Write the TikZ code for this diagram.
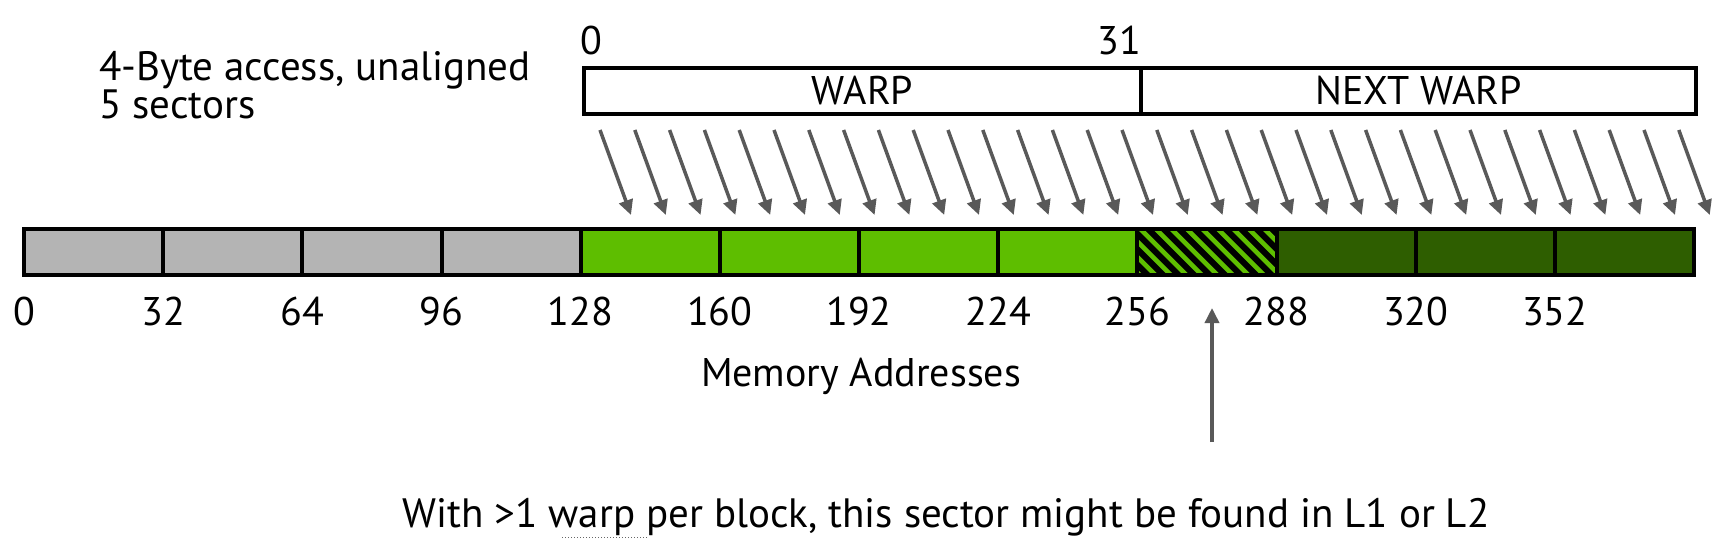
\documentclass[tikz,border=0pt]{standalone}
\usepackage{fontspec}
\setmainfont{PT Sans}
\usetikzlibrary{arrows.meta}
\definecolor{secgray}{HTML}{B4B4B4}
\definecolor{brightgreen}{HTML}{5EBE00}
\definecolor{darkgreen}{HTML}{2E5E00}
\definecolor{arrowgray}{HTML}{595959}
\tikzset{
  lbl/.style={font=\fontsize{40}{44}\selectfont, inner sep=0pt},
  sector/.style={draw=black, line width=4pt},
  warpbox/.style={draw=black, line width=4pt, fill=white},
  thread/.style={draw=arrowgray, line width=3.5pt, -{Triangle[length=15pt,width=14pt]}},
}
\begin{document}
\begin{tikzpicture}[x=1pt,y=-1pt]
\useasboundingbox (0,0) rectangle (1726,548);
% top-left text
\node[lbl, anchor=base west, font=\fontsize{41}{44}\selectfont] (t1) at (99,81) {4-Byte access, unaligned};
\node[lbl, anchor=base west, font=\fontsize{41}{44}\selectfont] (t2) at (99,119) {5 sectors};
% warp boxes
\node[warpbox, minimum width=557pt, minimum height=46pt, anchor=north west, inner sep=0pt, lbl] (warp) at (582,66) {WARP};
\node[warpbox, minimum width=555pt, minimum height=46pt, anchor=north west, inner sep=0pt, lbl] (nwarp) at (1139,66) {NEXT WARP};
\node[lbl, anchor=base west] (w0) at (580,55) {0};
\node[lbl, anchor=base east] (w31) at (1141,55) {31};
% memory sectors
\foreach \i in {0,...,3} {
  \draw[sector, fill=secgray] ({24+\i*139.17},229) rectangle ({24+(\i+1)*139.17},275);
}
\foreach \i in {4,...,7} {
  \draw[sector, fill=brightgreen] ({24+\i*139.17},229) rectangle ({24+(\i+1)*139.17},275);
}
\begin{scope}
  \clip ({24+8*139.17},229) rectangle ({24+9*139.17},275);
  \fill[black] ({24+8*139.17},229) rectangle ({24+9*139.17},275);
  \foreach \s in {-3,...,10} {
    \draw[brightgreen, line width=4.5pt] ({24+8*139.17+\s*15.5},226) -- ({24+8*139.17+\s*15.5+52},278);
  }
\end{scope}
\draw[sector] ({24+8*139.17},229) rectangle ({24+9*139.17},275);
\foreach \i in {9,...,11} {
  \draw[sector, fill=darkgreen] ({24+\i*139.17},229) rectangle ({24+(\i+1)*139.17},275);
}
% address labels
\foreach \a [count=\c from 0] in {0,32,64,96,128,160,192,224,256,288,320,352} {
  \node[lbl, anchor=base] (addr\c) at ({24+\c*139.17},325) {\a};
}
\node[lbl, anchor=base] (memlbl) at (861,386) {Memory Addresses};
% thread arrows
\foreach \k in {0,...,31} {
  \coordinate (s\k) at ({600+\k*34.8},130);
  \coordinate (e\k) at ({631+\k*34.8},215);
  \draw[thread] (s\k) -- (e\k);
}
% sector pointer
\coordinate (pfrom) at (1212,442);
\coordinate (pto) at (1212,308);
\draw[thread] (pfrom) -- (pto);
\node[lbl, anchor=base, font=\fontsize{41}{44}\selectfont] (note) at (946,527) {With >1 warp per block, this sector might be found in L1 or L2};
\draw[black!60, line width=1pt, dotted] (562,537) -- (648,537);
\end{tikzpicture}
\end{document}
